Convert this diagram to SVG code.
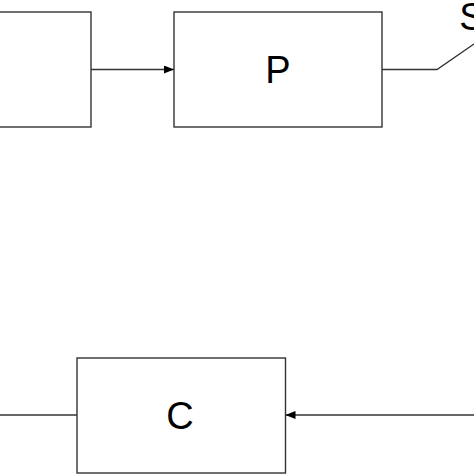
<svg xmlns="http://www.w3.org/2000/svg" width="474" height="474" viewBox="0 0 474 474">
<defs>
<marker id="ah" markerWidth="10" markerHeight="8" refX="10" refY="4" orient="auto" markerUnits="userSpaceOnUse">
<path d="M0,0 L10,4 L0,8 Z" fill="#000"/>
</marker>
<style>
.box{fill:#fff;stroke:#333;stroke-width:1.4}
.ln{fill:none;stroke:#333;stroke-width:1.4}
.lbl{font-family:"Liberation Sans",Arial,sans-serif;font-size:38px;fill:#000;text-anchor:middle}
</style>
</defs>
<rect width="474" height="474" fill="#fff"/>
<g id="connectors">
<line class="ln" x1="91" y1="69.5" x2="174" y2="69.5" marker-end="url(#ah)"/>
<polyline class="ln" points="382,69.5 437,69.5 474,44"/>
<line class="ln" x1="0" y1="415" x2="77" y2="415"/>
<line class="ln" x1="474" y1="415" x2="285.5" y2="415" marker-end="url(#ah)"/>
</g>
<g id="nodeLeft"><rect class="box" x="-20" y="12" width="111" height="115"/></g>
<g id="nodeP"><rect class="box" x="174" y="12" width="208" height="115"/><text class="lbl" x="278" y="83">P</text></g>
<g id="nodeS"><text class="lbl" x="472" y="30" style="text-anchor:middle">S</text></g>
<g id="nodeC"><rect class="box" x="77" y="358" width="208.5" height="115"/><text class="lbl" x="180" y="429">C</text></g>
</svg>
